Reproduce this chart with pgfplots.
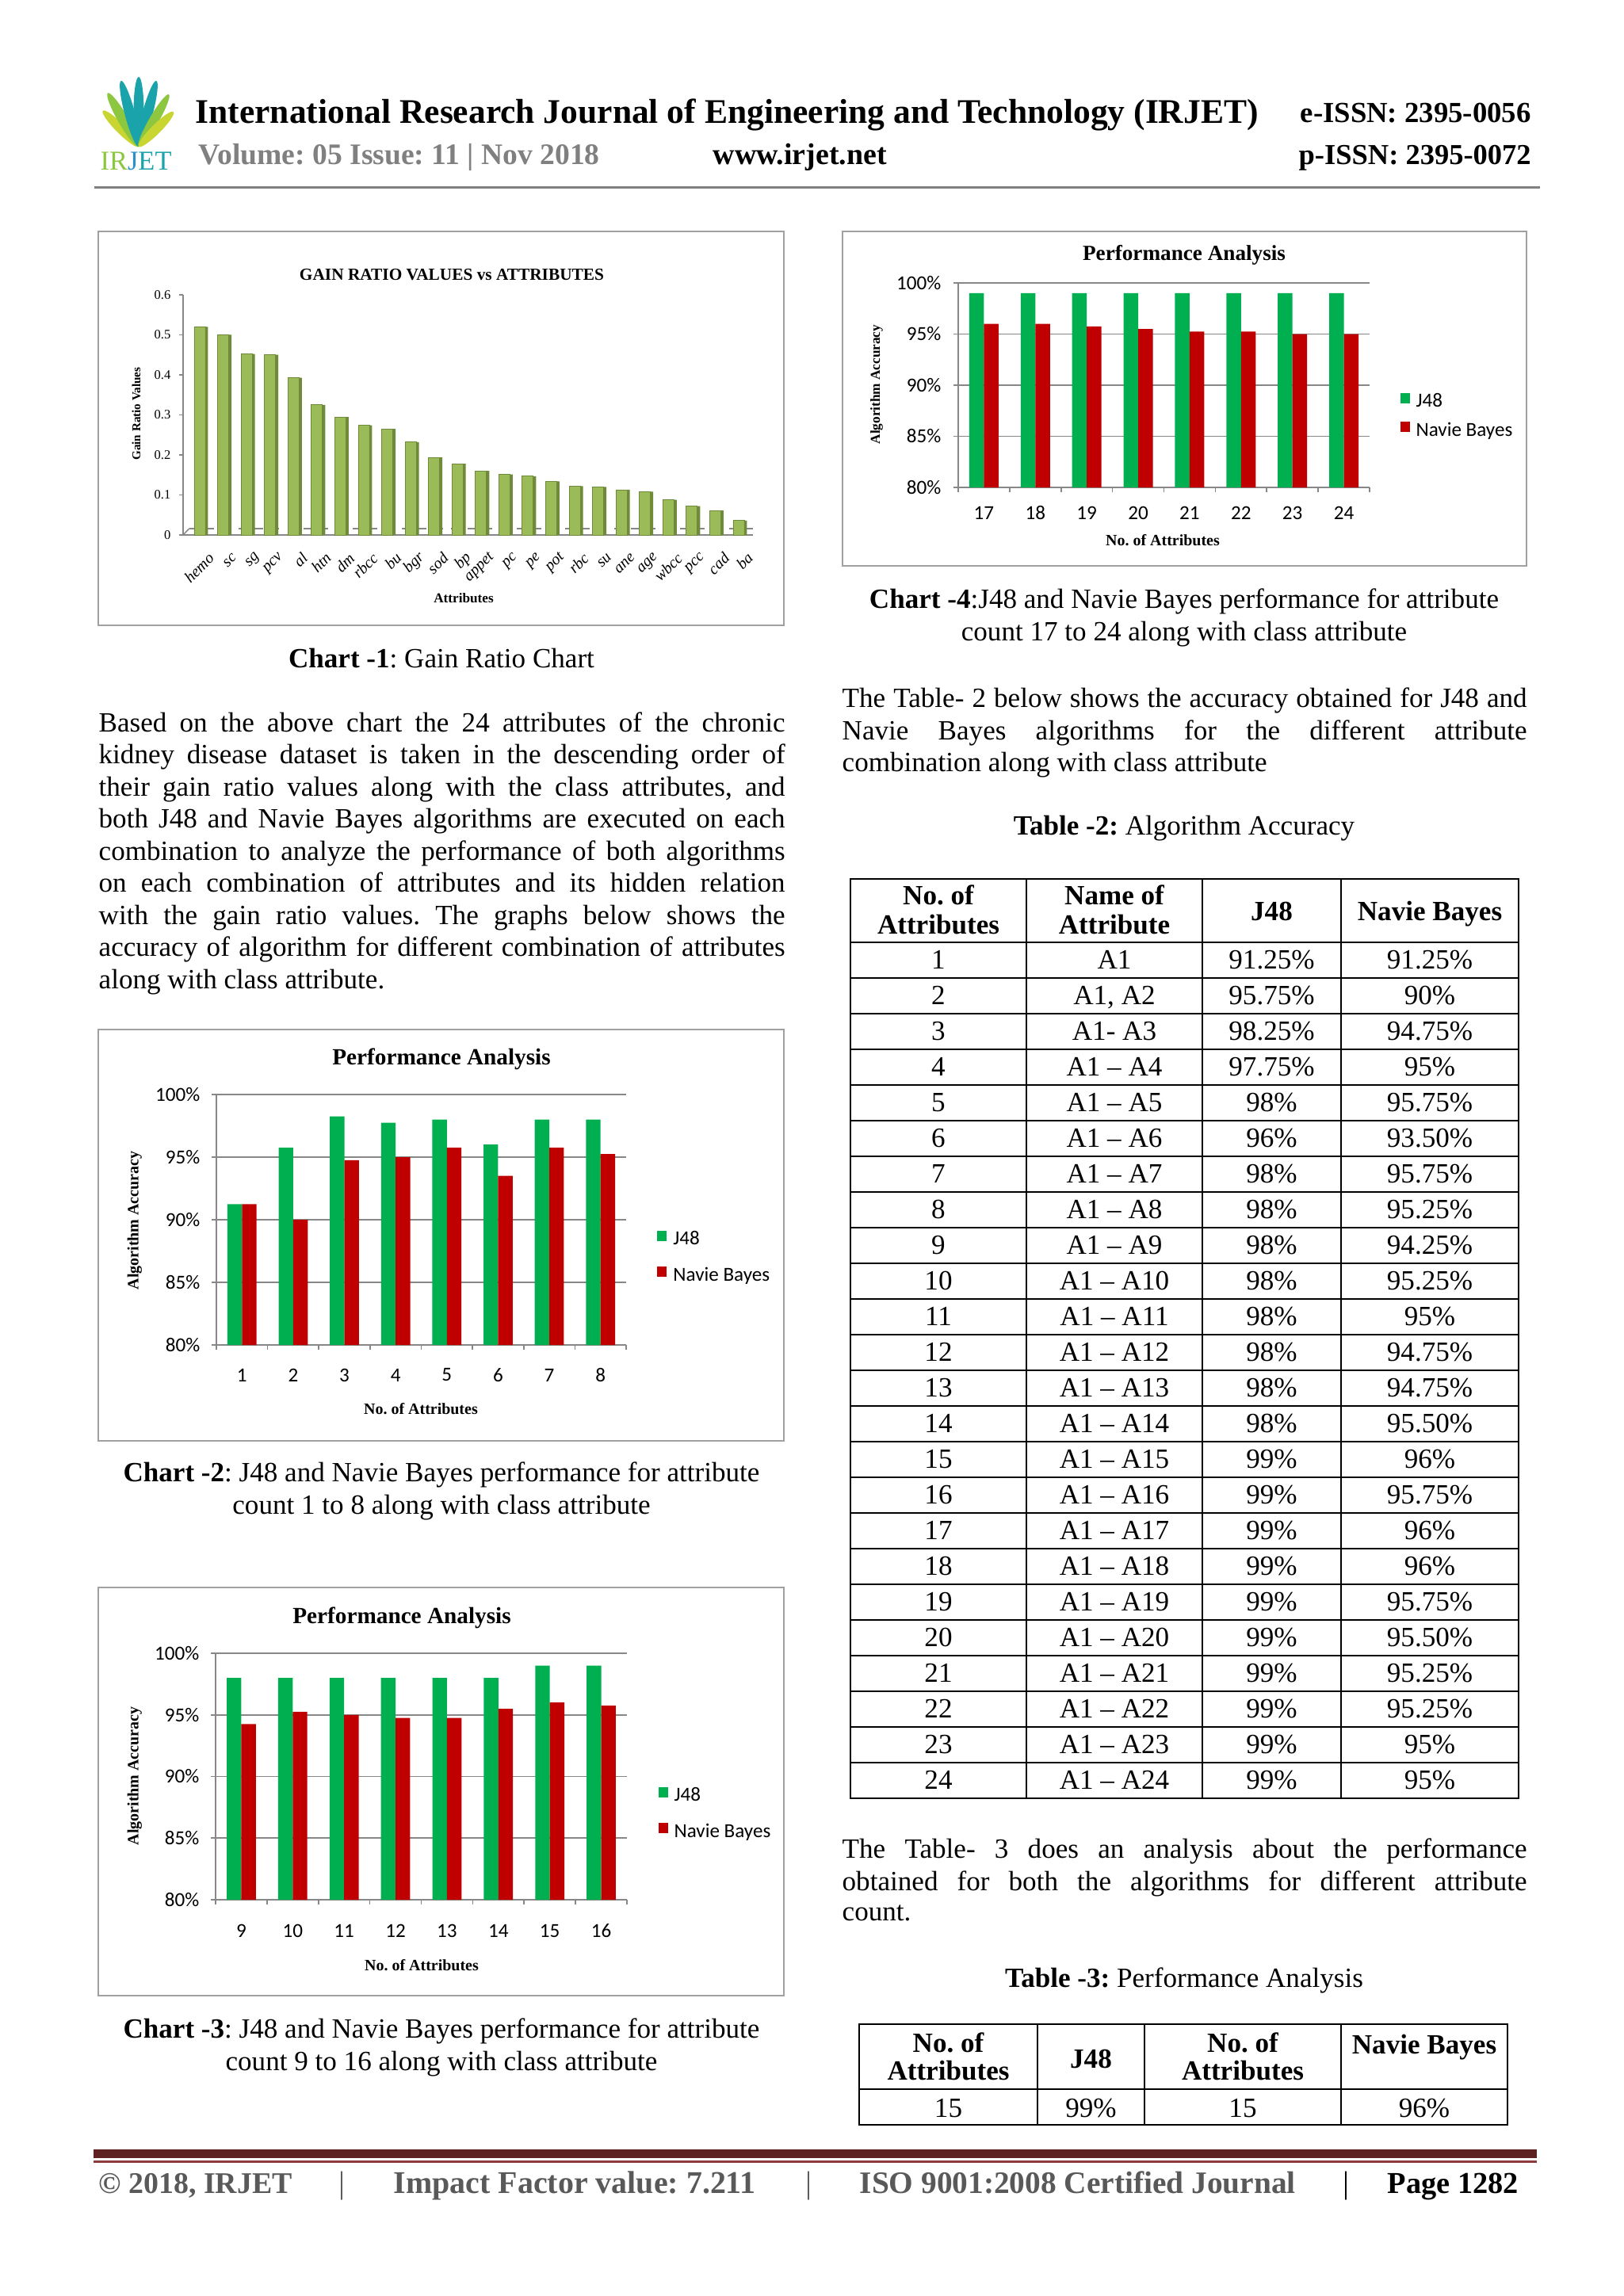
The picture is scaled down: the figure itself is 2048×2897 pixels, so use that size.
\documentclass[border=0pt]{standalone}
\usepackage{fontspec}
\setmainfont{Liberation Serif}
\newfontfamily\calibri{Carlito}
\usepackage{pgfplots}
\pgfplotsset{compat=1.18}
\usepackage{pgfplotstable}
\usepackage{graphicx}
\frenchspacing

\newlength\px
\setlength\px{0.290662pt}

\definecolor{jgreen}{HTML}{00B050}
\definecolor{nbred}{HTML}{C00000}
\definecolor{gainc}{HTML}{9BBB59}
\definecolor{gaind}{HTML}{6F8A3A}
\definecolor{gridc}{HTML}{878787}
\definecolor{boxc}{HTML}{A0A0A0}
\definecolor{maroon}{HTML}{5E2121}
\definecolor{maroonl}{HTML}{8C3A3A}
\definecolor{hdrgray}{HTML}{808080}
\definecolor{ftgray}{HTML}{595959}
\definecolor{leafteal}{HTML}{1BA3AB}
\definecolor{leafgreen}{HTML}{8DC63F}
\definecolor{leafyel}{HTML}{C9D530}
\definecolor{irblue}{HTML}{2E8FC9}

\newcommand\bodyfont{\fontsize{10.2}{12.2}\selectfont}
\newcommand\tickfont{\calibri\fontsize{7.3}{8.8}\selectfont}
\newcommand\lab[1]{\bfseries\fontsize{#1}{#1}\selectfont}

\pgfplotstableread{
n j48 nb
1 91.25 91.25
2 95.75 90
3 98.25 94.75
4 97.75 95
5 98 95.75
6 96 93.5
7 98 95.75
8 98 95.25
}\tabA
\pgfplotstableread{
n j48 nb
9 98 94.25
10 98 95.25
11 98 95
12 98 94.75
13 98 94.75
14 98 95.5
15 99 96
16 99 95.75
}\tabB
\pgfplotstableread{
n j48 nb
17 99 96
18 99 96
19 99 95.75
20 99 95.5
21 99 95.25
22 99 95.25
23 99 95
24 99 95
}\tabC
\pgfplotstableread{
i gr
0 0.520
1 0.500
2 0.452
3 0.450
4 0.393
5 0.325
6 0.295
7 0.274
8 0.265
9 0.232
10 0.194
11 0.178
12 0.160
13 0.151
14 0.147
15 0.134
16 0.122
17 0.120
18 0.113
19 0.108
20 0.088
21 0.072
22 0.061
23 0.036
}\tabG

\pgfplotsset{
  perf/.style={
    scale only axis,
    ymin=80, ymax=100,
    ytick={80,85,90,95,100},
    yticklabels={80\%,85\%,90\%,95\%,100\%},
    axis x line*=bottom, axis y line*=left,
    axis line style={draw=gridc, line width=1.6\px},
    ymajorgrids,
    major grid style={draw=gridc, line width=1.6\px},
    tick align=outside,
    major tick length=6\px,
    ytick style={draw=gridc, line width=1.6\px},
    xtick style={draw=none},
    tick label style={font=\tickfont, inner sep=0pt},
    x tick label style={anchor=center},
    y tick label style={anchor=east},
    legend cell align=left,
    legend style={draw=none, fill=none, inner sep=0pt, font=\tickfont,
       nodes={inner sep=0pt},
       /tikz/every odd column/.append style={column sep=8\px}},
    clip mode=individual,
  },
}

\newcommand\jline[4]{\node[anchor=base west, inner sep=0pt] at (#1,#2) {\bodyfont\makebox[#3\px][s]{#4}};}
\newcommand\pline[3]{\node[anchor=base west, inner sep=0pt] at (#1,#2) {\bodyfont #3};}
\newcommand\ctline[3]{\node[anchor=base, inner sep=0pt] at (#1,#2) {\bodyfont #3};}
\newcommand\trow[4]{%
 \node[anchor=base,inner sep=0pt] at (1184,1177.5+45*#1) {\bodyfont #1};
 \node[anchor=base,inner sep=0pt] at (1406,1177.5+45*#1) {\bodyfont #2};
 \node[anchor=base,inner sep=0pt] at (1604.5,1177.5+45*#1) {\bodyfont #3};
 \node[anchor=base,inner sep=0pt] at (1804,1177.5+45*#1) {\bodyfont #4};}

\begin{document}
\begin{tikzpicture}[x=\px, y=-\px]
\useasboundingbox (0,0) rectangle (2048,2897);
\fill[white] (0,0) rectangle (2048,2897);

% ---------------- header ----------------
\foreach \cx/\cy/\ang/\rb/\ra/\col in {152.4/162.4/45/32/6/leafyel, 155.5/151.2/30/39/6.5/leafgreen, 163.9/143.5/15/43/6.5/leafteal, 175/141/0/44/6.5/leafteal, 186.1/143.5/-15/43/6.5/leafteal, 194/152.1/-30/38/6/leafgreen, 196.9/163.1/-45/31/6/leafyel}
  \fill[\col, rotate around={\ang:(\cx,\cy)}] (\cx,\cy) ellipse ({\ra} and {\rb});
\node[anchor=base west, inner sep=0pt] at (126,214) {\fontsize{10}{10}\selectfont\textcolor{leafgreen}{IR}\textcolor{irblue}{J}\textcolor{leafteal}{ET}};
\node[anchor=base west, inner sep=0pt] at (246,155) {\resizebox{1341\px}{!}{\bfseries International Research Journal of Engineering and Technology (IRJET)}};
\node[anchor=base west, inner sep=0pt] at (1640,155) {\resizebox{291\px}{!}{\bfseries e-ISSN: 2395-0056}};
\node[anchor=base west, inner sep=0pt] at (250,207) {\resizebox{506\px}{!}{\bfseries\color{hdrgray}Volume: 05 Issue: 11 | Nov 2018}};
\node[anchor=base west, inner sep=0pt] at (899,207) {\resizebox{219\px}{!}{\bfseries www.irjet.net}};
\node[anchor=base west, inner sep=0pt] at (1638,207) {\resizebox{293\px}{!}{\bfseries p-ISSN: 2395-0072}};
\draw[hdrgray, line width=3\px] (119,236) -- (1943,236);

% ---------------- chart boxes ----------------
\draw[boxc, line width=2\px] (124,292) rectangle (989,789);
\draw[boxc, line width=2\px] (1063,292) rectangle (1926,714);
\draw[boxc, line width=2\px] (124,1299) rectangle (989,1818);
\draw[boxc, line width=2\px] (124,2003) rectangle (989,2518);

% ---------------- chart 1 : gain ratio ----------------
\node[inner sep=0pt] at (570,347) {\lab{6.2}GAIN RATIO VALUES vs ATTRIBUTES};
\node[inner sep=0pt, rotate=90] at (172,522) {\lab{4.4}Gain Ratio Values};
\node[inner sep=0pt] at (585,755) {\lab{5}Attributes};
\begin{axis}[at={(231\px,-675\px)}, anchor=south west, scale only axis,
  width=719\px, height=303\px,
  xmin=-0.71, xmax=23.61, ymin=0, ymax=0.6,
  axis x line*=bottom, axis y line*=left,
  axis line style={draw=gridc, line width=1.5\px},
  xtick={0,...,23},
  xticklabels={hemo,sc,sg,pcv,al,htn,dm,rbcc,bu,bgr,sod,bp,appet,pc,pe,pot,rbc,su,ane,age,wbcc,pcc,cad,ba},
  xtick style={draw=none},
  ytick={0,0.1,0.2,0.3,0.4,0.5,0.6},
  yticklabels={0,0.1,0.2,0.3,0.4,0.5,0.6},
  tick align=outside, major tick length=5\px,
  ytick style={draw=gridc, line width=1.5\px},
  y tick label style={font=\fontsize{4.8}{5.5}\selectfont, anchor=east, inner sep=0pt, xshift=-10\px},
  x tick label style={font=\itshape\fontsize{5.8}{7}\selectfont, rotate=45, anchor=east, inner sep=0pt, yshift=-25\px, xshift=-4\px},
  clip mode=individual,
]
\draw[gridc, dashed, line width=1.2\px] (axis cs:-0.45,0.016) -- (axis cs:23.61,0.016);
\draw[gridc, line width=1.5\px] (axis cs:-0.71,0) -- (axis cs:-0.45,0.016);
\addplot[ybar, bar width=14\px, bar shift=0pt, fill=gainc, draw=gaind, line width=0.8\px] table[x=i,y=gr]{\tabG};
\addplot[ybar, bar width=3.5\px, bar shift=8.75\px, fill=gaind, draw=none] table[x=i,y=gr]{\tabG};
\end{axis}

% ---------------- chart 4 (17-24) ----------------
\node[inner sep=0pt] at (1494,322) {\lab{7.9}Performance Analysis};
\node[inner sep=0pt, rotate=90] at (1106,485) {\lab{5}Algorithm Accuracy};
\node[inner sep=0pt] at (1467,682) {\lab{5.8}No. of Attributes};
\begin{axis}[perf, at={(1209\px,-615\px)}, anchor=south west,
  width=519\px, height=258\px,
  xmin=16.5, xmax=24.5,
  xtick={17,...,24}, xticklabels={17,18,19,20,21,22,23,24},
  x tick label style={yshift=-26\px},
  y tick label style={xshift=-15\px},
  legend style={at={(1.073,0.347)}, anchor=west, row sep=13\px},
]
\pgfplotsinvokeforeach{16.5,17.5,...,24.5}{\draw[gridc, line width=1.6\px] (axis cs:#1,80) -- ++(0pt,-6\px);}
\addplot[ybar, bar width=18.5\px, bar shift=-9.25\px, fill=jgreen, draw=none,
  legend image code/.code={\fill[jgreen] (0pt,-1\px) rectangle (12\px,12\px);}] table[x=n,y=j48]{\tabC};
\addplot[ybar, bar width=18.5\px, bar shift=9.25\px, fill=nbred, draw=none,
  legend image code/.code={\fill[nbred] (0pt,-1\px) rectangle (12\px,12\px);}] table[x=n,y=nb]{\tabC};
\legend{J48, Navie Bayes}
\end{axis}

% ---------------- chart 2 (1-8) ----------------
\node[inner sep=0pt] at (557,1336) {\lab{8.5}Performance Analysis};
\node[inner sep=0pt, rotate=90] at (170,1540) {\lab{5.8}Algorithm Accuracy};
\node[inner sep=0pt] at (531,1778) {\lab{5.8}No. of Attributes};
\begin{axis}[perf, at={(273\px,-1697\px)}, anchor=south west,
  width=517\px, height=316\px,
  xmin=0.5, xmax=8.5,
  xtick={1,...,8}, xticklabels={1,2,3,4,5,6,7,8},
  x tick label style={yshift=-32\px},
  y tick label style={xshift=-14\px},
  legend style={at={(1.075,0.348)}, anchor=west, row sep=22\px},
]
\pgfplotsinvokeforeach{0.5,1.5,...,8.5}{\draw[gridc, line width=1.6\px] (axis cs:#1,80) -- ++(0pt,-6\px);}
\addplot[ybar, bar width=18.4\px, bar shift=-9.2\px, fill=jgreen, draw=none,
  legend image code/.code={\fill[jgreen] (0pt,-1\px) rectangle (12\px,12\px);}] table[x=n,y=j48]{\tabA};
\addplot[ybar, bar width=18.4\px, bar shift=9.2\px, fill=nbred, draw=none,
  legend image code/.code={\fill[nbred] (0pt,-1\px) rectangle (12\px,12\px);}] table[x=n,y=nb]{\tabA};
\legend{J48, Navie Bayes}
\end{axis}

% ---------------- chart 3 (9-16) ----------------
\node[inner sep=0pt] at (507,2041) {\lab{8.5}Performance Analysis};
\node[inner sep=0pt, rotate=90] at (170,2241) {\lab{5.8}Algorithm Accuracy};
\node[inner sep=0pt] at (532,2480) {\lab{5.8}No. of Attributes};
\begin{axis}[perf, at={(272\px,-2397\px)}, anchor=south west,
  width=519\px, height=311\px,
  xmin=8.5, xmax=16.5,
  xtick={9,...,16}, xticklabels={9,10,11,12,13,14,15,16},
  x tick label style={yshift=-33\px},
  y tick label style={xshift=-14\px},
  legend style={at={(1.075,0.347)}, anchor=west, row sep=22\px},
]
\pgfplotsinvokeforeach{8.5,9.5,...,16.5}{\draw[gridc, line width=1.6\px] (axis cs:#1,80) -- ++(0pt,-6\px);}
\addplot[ybar, bar width=18.4\px, bar shift=-9.2\px, fill=jgreen, draw=none,
  legend image code/.code={\fill[jgreen] (0pt,-1\px) rectangle (12\px,12\px);}] table[x=n,y=j48]{\tabB};
\addplot[ybar, bar width=18.4\px, bar shift=9.2\px, fill=nbred, draw=none,
  legend image code/.code={\fill[nbred] (0pt,-1\px) rectangle (12\px,12\px);}] table[x=n,y=nb]{\tabB};
\legend{J48, Navie Bayes}
\end{axis}

% ---------------- left column text ----------------
\ctline{557}{842}{\textbf{Chart -1}: Gain Ratio Chart}
\jline{124}{923}{866}{Based on the above chart the 24 attributes of the chronic}
\jline{124}{963.5}{866}{kidney disease dataset is taken in the descending order of}
\jline{124}{1004}{866}{their gain ratio values along with the class attributes, and}
\jline{124}{1044.5}{866}{both J48 and Navie Bayes algorithms are executed on each}
\jline{124}{1085}{866}{combination to analyze the performance of both algorithms}
\jline{124}{1125.5}{866}{on each combination of attributes and its hidden relation}
\jline{124}{1166}{866}{with the gain ratio values. The graphs below shows the}
\jline{124}{1206.5}{866}{accuracy of algorithm for different combination of attributes}
\pline{124}{1247}{along with class attribute.}
\ctline{557}{1869}{\textbf{Chart -2}: J48 and Navie Bayes performance for attribute}
\ctline{557}{1910}{count 1 to 8 along with class attribute}
\ctline{557}{2571}{\textbf{Chart -3}: J48 and Navie Bayes performance for attribute}
\ctline{557}{2612}{count 9 to 16 along with class attribute}

% ---------------- right column text ----------------
\ctline{1494}{767}{\textbf{Chart -4}:J48 and Navie Bayes performance for attribute}
\ctline{1494}{808}{count 17 to 24 along with class attribute}
\jline{1062}{892}{864}{The Table- 2 below shows the accuracy obtained for J48 and}
\jline{1062}{933}{864}{Navie Bayes algorithms for the different attribute}
\pline{1062}{973}{combination along with class attribute}
\ctline{1494}{1053}{\textbf{Table -2:} Algorithm Accuracy}

% table 2
\draw[line width=2\px] (1073,1109) rectangle (1916,2269);
\foreach \xx in {1295,1517,1692} \draw[line width=2\px] (\xx,1109) -- (\xx,2269);
\foreach \k in {0,...,23} \draw[line width=2\px] (1073,1189+45*\k) -- (1916,1189+45*\k);
\node[anchor=base,inner sep=0pt] at (1184,1141) {\bodyfont\bfseries No. of};
\node[anchor=base,inner sep=0pt] at (1184,1178) {\bodyfont\bfseries Attributes};
\node[anchor=base,inner sep=0pt] at (1406,1141) {\bodyfont\bfseries Name of};
\node[anchor=base,inner sep=0pt] at (1406,1178) {\bodyfont\bfseries Attribute};
\node[anchor=base,inner sep=0pt] at (1604.5,1161) {\bodyfont\bfseries J48};
\node[anchor=base,inner sep=0pt] at (1804,1161) {\bodyfont\bfseries Navie Bayes};
\trow{1}{A1}{91.25\%}{91.25\%}
\trow{2}{A1, A2}{95.75\%}{90\%}
\trow{3}{A1- A3}{98.25\%}{94.75\%}
\trow{4}{A1 -- A4}{97.75\%}{95\%}
\trow{5}{A1 -- A5}{98\%}{95.75\%}
\trow{6}{A1 -- A6}{96\%}{93.50\%}
\trow{7}{A1 -- A7}{98\%}{95.75\%}
\trow{8}{A1 -- A8}{98\%}{95.25\%}
\trow{9}{A1 -- A9}{98\%}{94.25\%}
\trow{10}{A1 -- A10}{98\%}{95.25\%}
\trow{11}{A1 -- A11}{98\%}{95\%}
\trow{12}{A1 -- A12}{98\%}{94.75\%}
\trow{13}{A1 -- A13}{98\%}{94.75\%}
\trow{14}{A1 -- A14}{98\%}{95.50\%}
\trow{15}{A1 -- A15}{99\%}{96\%}
\trow{16}{A1 -- A16}{99\%}{95.75\%}
\trow{17}{A1 -- A17}{99\%}{96\%}
\trow{18}{A1 -- A18}{99\%}{96\%}
\trow{19}{A1 -- A19}{99\%}{95.75\%}
\trow{20}{A1 -- A20}{99\%}{95.50\%}
\trow{21}{A1 -- A21}{99\%}{95.25\%}
\trow{22}{A1 -- A22}{99\%}{95.25\%}
\trow{23}{A1 -- A23}{99\%}{95\%}
\trow{24}{A1 -- A24}{99\%}{95\%}

\jline{1062}{2344}{864}{The Table- 3 does an analysis about the performance}
\jline{1062}{2385}{864}{obtained for both the algorithms for different attribute}
\pline{1062}{2423}{count.}
\ctline{1494}{2507}{\textbf{Table -3:} Performance Analysis}

% table 3
\draw[line width=2\px] (1084,2554) rectangle (1902,2681);
\foreach \xx in {1309,1444,1692} \draw[line width=2\px] (\xx,2554) -- (\xx,2681);
\draw[line width=2\px] (1084,2636) -- (1902,2636);
\node[anchor=base,inner sep=0pt] at (1196.5,2589) {\bodyfont\bfseries No. of};
\node[anchor=base,inner sep=0pt] at (1196.5,2624) {\bodyfont\bfseries Attributes};
\node[anchor=base,inner sep=0pt] at (1376.5,2609) {\bodyfont\bfseries J48};
\node[anchor=base,inner sep=0pt] at (1568,2589) {\bodyfont\bfseries No. of};
\node[anchor=base,inner sep=0pt] at (1568,2624) {\bodyfont\bfseries Attributes};
\node[anchor=base,inner sep=0pt] at (1797,2591) {\bodyfont\bfseries Navie Bayes};
\node[anchor=base,inner sep=0pt] at (1196.5,2671) {\bodyfont 15};
\node[anchor=base,inner sep=0pt] at (1376.5,2671) {\bodyfont 99\%};
\node[anchor=base,inner sep=0pt] at (1568,2671) {\bodyfont 15};
\node[anchor=base,inner sep=0pt] at (1797,2671) {\bodyfont 96\%};

% ---------------- footer ----------------
\fill[maroon] (118,2712) rectangle (1939,2723);
\fill[maroonl] (118,2726) rectangle (1939,2729);
\node[anchor=base west, inner sep=0pt] at (124,2767) {\resizebox{244\px}{!}{\bfseries\color{ftgray}© 2018, IRJET}};
\node[anchor=base, inner sep=0pt] at (431,2767) {\fontsize{11.5}{11.5}\selectfont\color{ftgray}|};
\node[anchor=base west, inner sep=0pt] at (496,2767) {\resizebox{457\px}{!}{\bfseries\color{ftgray}Impact Factor value: 7.211}};
\node[anchor=base, inner sep=0pt] at (1020,2767) {\fontsize{11.5}{11.5}\selectfont\color{ftgray}|};
\node[anchor=base west, inner sep=0pt] at (1084,2767) {\resizebox{550\px}{!}{\bfseries\color{ftgray}ISO 9001:2008 Certified Journal}};
\node[anchor=base, inner sep=0pt] at (1698,2767) {\fontsize{11.5}{11.5}\selectfont\color{black}|};
\node[anchor=base west, inner sep=0pt] at (1750,2767) {\resizebox{165\px}{!}{\bfseries Page 1282}};
\end{tikzpicture}
\end{document}
